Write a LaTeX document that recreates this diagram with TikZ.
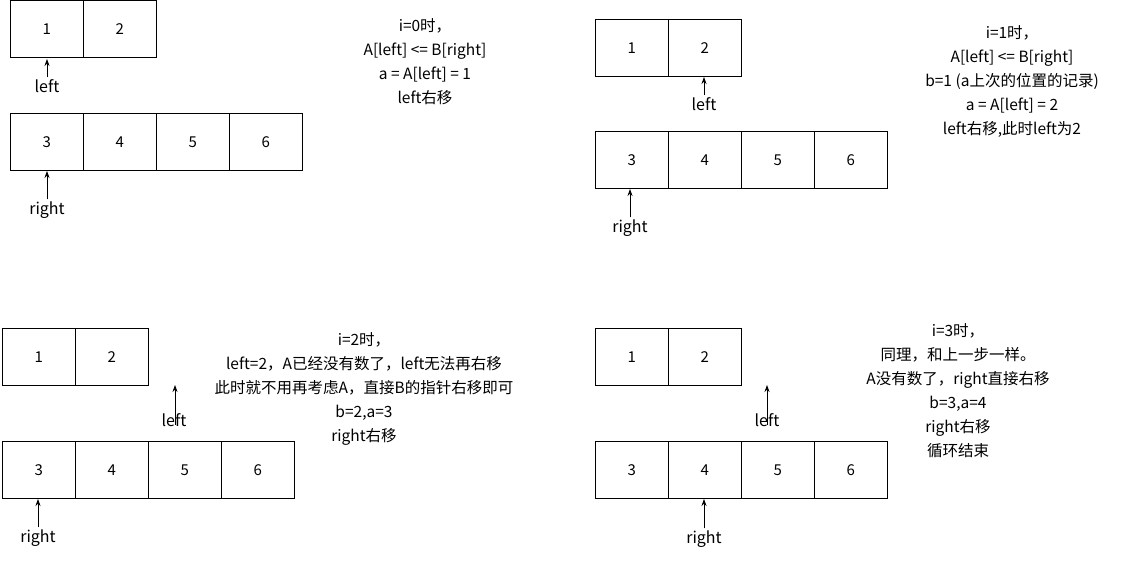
\documentclass[tikz,border=0pt]{standalone}
\usepackage{fontspec}
\setmainfont{Noto Sans CJK SC}
\usetikzlibrary{arrows.meta}
\begin{document}
\begin{tikzpicture}[x=1pt,y=-1pt,
  cell/.style={draw,thick,minimum width=73pt,minimum height=57pt,anchor=north west,inner sep=0pt,font=\fontsize{15}{15}\selectfont},
  lbl/.style={font=\fontsize{16}{16}\selectfont,inner sep=0pt},
  txt/.style={font=\fontsize{15.5}{24}\selectfont,align=center,inner sep=0pt,anchor=north},
  ptr/.style={-{Stealth[length=7pt,width=5pt]},thick}]
\useasboundingbox (0,0) rectangle (1124,569);
% panel 1
\node[cell] (a1) at (10,0) {1}; \node[cell] (a2) at (83,0) {2};
\node[cell] (b1) at (10,113) {3}; \node[cell] (b2) at (83,113) {4};
\node[cell] (b3) at (156,113) {5}; \node[cell] (b4) at (229,113) {6};
\node[lbl] (l1) at (47,86) {left}; \coordinate (l1t) at (47,59);
\draw[ptr] (l1.north) ++(0,-2) -- (l1t);
\node[lbl] (r1) at (47,210) {right}; \coordinate (r1t) at (47,171);
\draw[ptr] (r1.north) ++(0,-2) -- (r1t);
\node[txt] (t1) at (425,18) {i=0时，\\A[left] <= B[right]\\a = A[left] = 1\\left右移};
% panel 2
\node[cell] (c1) at (595,19) {1}; \node[cell] (c2) at (668,19) {2};
\node[cell] (d1) at (595,131) {3}; \node[cell] (d2) at (668,131) {4};
\node[cell] (d3) at (741,131) {5}; \node[cell] (d4) at (814,131) {6};
\node[lbl] (l2) at (704,104) {left}; \coordinate (l2t) at (704,77);
\draw[ptr] (l2.north) ++(0,-2) -- (l2t);
\node[lbl] (r2) at (630,228) {right}; \coordinate (r2t) at (630,189);
\draw[ptr] (r2.north) ++(0,-2) -- (r2t);
\node[txt] (t2) at (1012,25) {i=1时，\\A[left] <= B[right]\\b=1 (a上次的位置的记录)\\a = A[left] = 2\\left右移,此时left为2};
% panel 3
\node[cell] (e1) at (2,328) {1}; \node[cell] (e2) at (75,328) {2};
\node[cell] (f1) at (2,441) {3}; \node[cell] (f2) at (75,441) {4};
\node[cell] (f3) at (148,441) {5}; \node[cell] (f4) at (221,441) {6};
\node[lbl] (l3) at (174,420) {left}; \coordinate (l3t) at (175,385);
\draw[ptr] ([xshift=1pt,yshift=-12pt]l3.north) -- (l3t);
\node[lbl] (r3) at (38,538) {right}; \coordinate (r3t) at (38,499);
\draw[ptr] (r3.north) ++(0,-2) -- (r3t);
\node[txt] (t3) at (364,332) {i=2时，\\left=2，A已经没有数了，left无法再右移\\此时就不用再考虑A，直接B的指针右移即可\\b=2,a=3\\right右移};
% panel 4
\node[cell] (g1) at (595,328) {1}; \node[cell] (g2) at (668,328) {2};
\node[cell] (h1) at (595,441) {3}; \node[cell] (h2) at (668,441) {4};
\node[cell] (h3) at (741,441) {5}; \node[cell] (h4) at (814,441) {6};
\node[lbl] (l4) at (767,420) {left}; \coordinate (l4t) at (767,385);
\draw[ptr] ([yshift=-12pt]l4.north) -- (l4t);
\node[lbl] (r4) at (704,539) {right}; \coordinate (r4t) at (704,499);
\draw[ptr] (r4.north) ++(0,-2) -- (r4t);
\node[txt] (t4) at (958,323) {i=3时，\\同理，和上一步一样。\\A没有数了，right直接右移\\b=3,a=4\\right右移\\循环结束};
\end{tikzpicture}
\end{document}
